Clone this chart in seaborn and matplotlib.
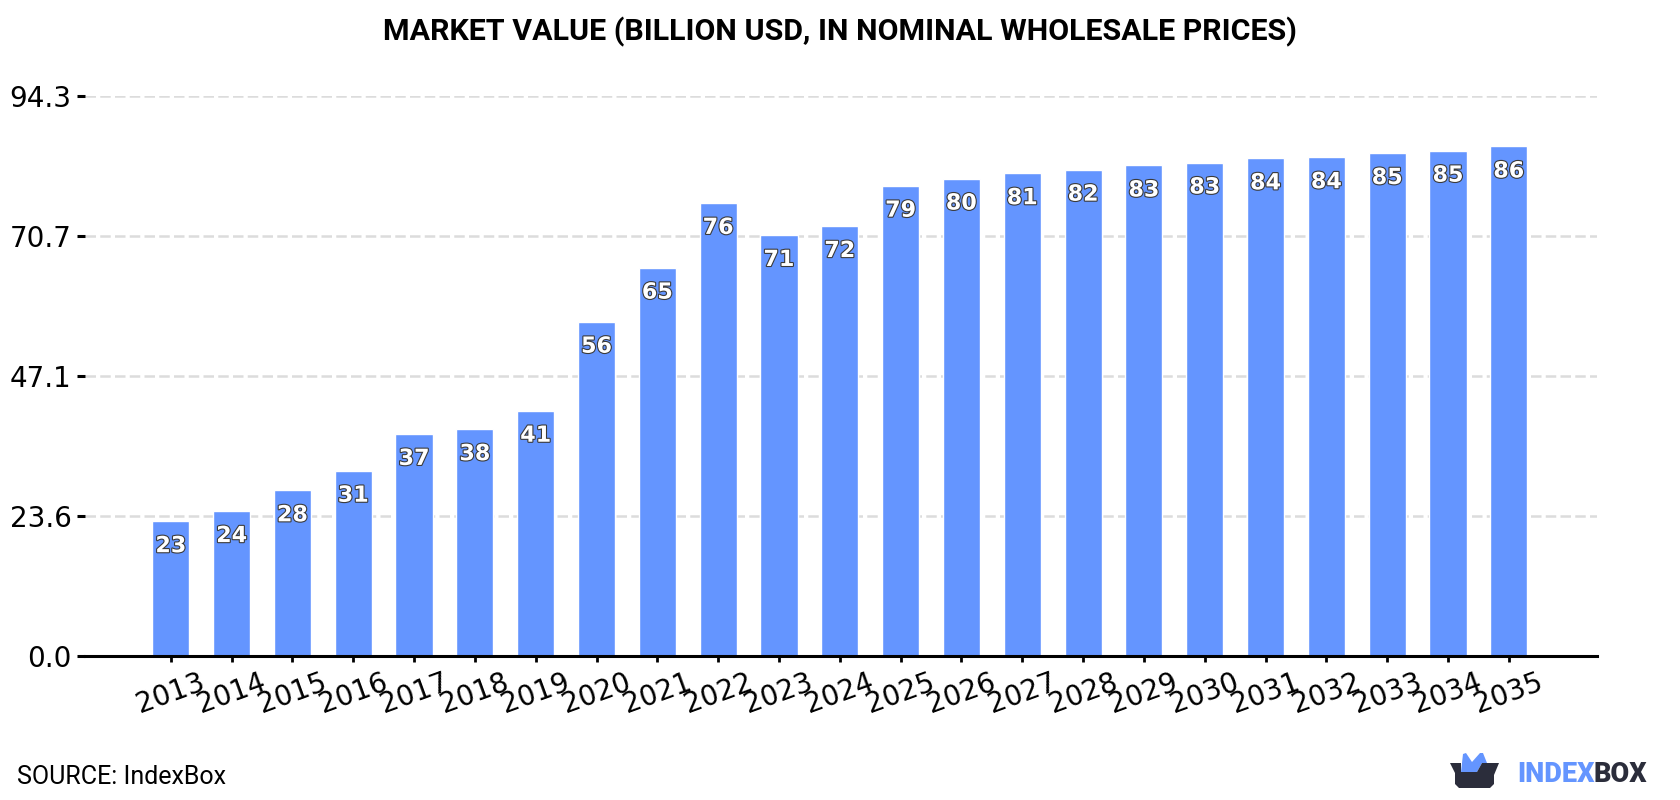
import matplotlib
matplotlib.use("Agg")
import matplotlib.pyplot as plt
import matplotlib.patheffects as pe
from matplotlib.patches import Polygon
import pandas as pd
import seaborn as sns

years = [str(y) for y in range(2013, 2036)]
market_value = [22.7, 24.4, 27.9, 31.2, 37.4, 38.2, 41.3, 56.3, 65.4, 76.3, 70.9, 72.4,
                79.2, 80.4, 81.3, 81.9, 82.6, 83.1, 83.8, 84.0, 84.7, 85.1, 85.8]
y_ticks = [0.0, 23.6, 47.1, 70.7, 94.3]
title = "MARKET VALUE (BILLION USD, IN NOMINAL WHOLESALE PRICES)"
source = "SOURCE: IndexBox"

BLUE = "#6495ff"
NAVY = "#2b2d3b"
W, H = 1680, 800

sns.set_theme(style="white")
fig = plt.figure(figsize=(W / 100, H / 100), dpi=100, facecolor="white")
ax = fig.add_axes([85 / W, 1 - 656 / H, (1597 - 85) / W, (656 - 96) / H])

df = pd.DataFrame({"year": years, "value": market_value})
sns.barplot(data=df, x="year", y="value", color=BLUE, saturation=1, width=0.61, ax=ax, zorder=3)

ax.set_xlim(-1.41, 23.45)
ax.set_ylim(0, 94.3)
ax.set_xlabel("")
ax.set_ylabel("")
sns.despine(ax=ax, left=True)
ax.spines["bottom"].set_linewidth(2.2)
ax.spines["bottom"].set_color("black")
ax.spines["bottom"].set_zorder(5)

ax.set_yticks(y_ticks)
ax.set_yticklabels([f"{v:.1f}" for v in y_ticks], fontfamily="DejaVu Sans", fontsize=20, color="black")
ax.tick_params(axis="y", left=True, length=5.8, width=2.2, color="black", pad=4)
ax.tick_params(axis="x", bottom=True, length=4, width=2, color="black", pad=5)
plt.setp(ax.get_xticklabels(), rotation=20, fontfamily="DejaVu Sans", fontsize=20, color="black",
         ha="center", va="top")

# Dash pattern is in units of the line width
ax.yaxis.grid(True, linestyle=(0, (4.2, 1.7)), linewidth=1.8, color="#dcdcdc", zorder=0)
ax.xaxis.grid(False)
ax.set_axisbelow(True)
ax.get_ygridlines()[0].set_visible(False)

# Value labels sit just under the top of each bar
outline = [pe.withStroke(linewidth=1.6, foreground="#3a3a3a")]
for i, v in enumerate(market_value):
    ax.annotate(f"{v:.0f}", (i, v), xytext=(0, -18), textcoords="offset points",
                ha="center", va="center", fontfamily="DejaVu Sans", fontweight="bold",
                fontsize=16, color="white", path_effects=outline, zorder=6)

fig.text(0.5, 1 - 32 / H, title, ha="center", va="center", fontfamily="Roboto",
         fontweight="bold", fontsize=21.9, color="black")
fig.text(17 / W, 1 - 777 / H, source, ha="left", va="center", fontfamily="Roboto",
         fontsize=18, color="black")

# Logo: box with a blue crown, followed by the two-tone wordmark
logo = fig.add_axes([0, 0, 1, 1], facecolor="none")
logo.set_xlim(0, W)
logo.set_ylim(H, 0)
logo.axis("off")
logo.add_patch(Polygon([[1461, 772], [1463, 754], [1466, 753], [1472, 762], [1480, 753], [1483, 753],
                        [1487, 763], [1482, 763], [1477, 772]],
                       closed=True, facecolor=BLUE, edgecolor="none"))
logo.add_patch(Polygon([[1450, 763], [1461, 763], [1461, 772], [1477, 772], [1482, 763], [1499, 763],
                        [1494, 775], [1494, 784], [1490, 788], [1459, 788], [1455, 784], [1455, 773]],
                       closed=True, facecolor=NAVY, edgecolor="none"))
t1 = logo.text(1517, 774, "INDEX", ha="left", va="center", fontfamily="Roboto",
               fontweight="black", fontsize=19.5, color=BLUE)
fig.canvas.draw()
bb = t1.get_window_extent()
logo.text(bb.x1 - 1, 774, "BOX", ha="left", va="center", fontfamily="Roboto",
          fontweight="black", fontsize=19.5, color=NAVY)

fig.savefig("out.png", dpi=100, facecolor="white")
